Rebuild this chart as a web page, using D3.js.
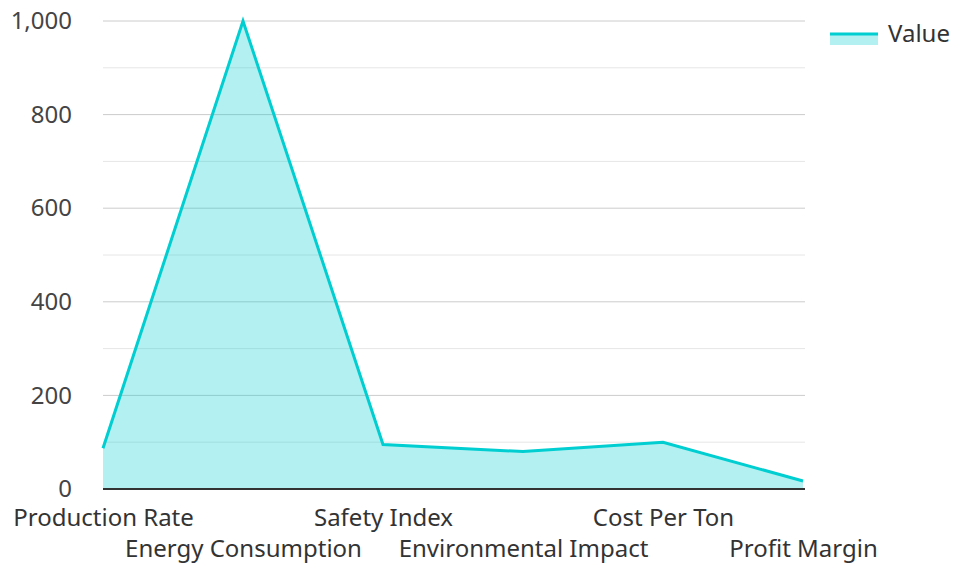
<!DOCTYPE html>
<html>
<head>
<meta charset="utf-8">
<script src="https://cdn.jsdelivr.net/npm/d3@7"></script>
<style>
  html, body { margin: 0; padding: 0; background: #fff; }
  svg { display: block; font-family: "Noto Sans", "Open Sans", sans-serif; }
</style>
</head>
<body>
<svg id="chart" width="953" height="563"></svg>
<script>
// Metrics and their values
const categories = ["Production Rate", "Energy Consumption", "Safety Index", "Environmental Impact", "Cost Per Ton", "Profit Margin"];
const values = [87, 1000, 95, 80, 100, 17];
const majorTicks = [0, 200, 400, 600, 800, 1000];
const minorTicks = [100, 300, 500, 700, 900];
const seriesName = "Value";

const lineColor = "#00CED1";
const margin = { left: 103, right: 150, top: 21, bottom: 74 };
const W = 953, H = 563;
const fontSize = 24;

const svg = d3.select("#chart");

const x = d3.scalePoint().domain(categories).range([margin.left, W - margin.right]).padding(0);
const y = d3.scaleLinear().domain([0, 1000]).range([H - margin.bottom, margin.top]);

// Grid lines
const grid = svg.append("g");
grid.selectAll("line.minor").data(minorTicks).join("line")
  .attr("x1", margin.left).attr("x2", W - margin.right + 2)
  .attr("y1", d => y(d)).attr("y2", d => y(d))
  .attr("stroke", "#e6e6e6").attr("stroke-width", 1);
grid.selectAll("line.major").data(majorTicks.filter(d => d > 0)).join("line")
  .attr("x1", margin.left).attr("x2", W - margin.right + 2)
  .attr("y1", d => y(d)).attr("y2", d => y(d))
  .attr("stroke", "#cccccc").attr("stroke-width", 1);

// Area fill and outline
const data = categories.map((c, i) => ({ c, v: values[i] }));
svg.append("path").datum(data)
  .attr("d", d3.area().x(d => x(d.c)).y0(y(0)).y1(d => y(d.v)))
  .attr("fill", lineColor).attr("fill-opacity", 0.3);
svg.append("path").datum(data)
  .attr("d", d3.line().x(d => x(d.c)).y(d => y(d.v)))
  .attr("fill", "none").attr("stroke", lineColor).attr("stroke-width", 3)
  .attr("stroke-linejoin", "miter");

// Y axis labels
const yAxis = svg.append("g").attr("transform", `translate(${margin.left - 28},0)`)
  .call(d3.axisLeft(y).tickValues(majorTicks).tickSize(0).tickFormat(d3.format(",")));
yAxis.select(".domain").remove();
yAxis.selectAll("text").attr("font-size", fontSize).attr("fill", "#444").attr("font-family", "Noto Sans");

// X axis, labels staggered over two rows
const xAxis = svg.append("g").attr("transform", `translate(0,${y(0)})`)
  .call(d3.axisBottom(x).tickSize(0).tickPadding(0));
xAxis.select(".domain").attr("stroke", "#333").attr("stroke-width", 2)
  .attr("d", `M${margin.left},0H${W - margin.right + 2}`);
xAxis.selectAll("text")
  .attr("font-size", fontSize).attr("fill", "#333").attr("font-family", "Noto Sans")
  .attr("dy", null)
  .attr("y", (d, i) => i % 2 === 0 ? 37 : 68);

// Legend
const lg = svg.append("g").attr("transform", "translate(830,34)");
lg.append("rect").attr("x", 0).attr("y", 0).attr("width", 48).attr("height", 11)
  .attr("fill", lineColor).attr("fill-opacity", 0.3);
lg.append("line").attr("x1", 0).attr("x2", 48).attr("y1", 0).attr("y2", 0)
  .attr("stroke", lineColor).attr("stroke-width", 3);
lg.append("text").attr("x", 58).attr("y", 8).attr("font-size", fontSize).attr("fill", "#333")
  .text(seriesName);
</script>
</body>
</html>
